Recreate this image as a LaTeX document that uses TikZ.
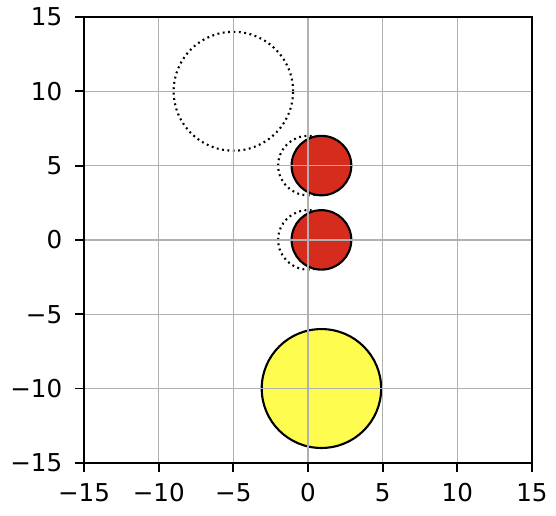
\documentclass[tikz,border=0pt]{standalone}
\usepackage{fontspec}
\setmainfont{DejaVu Sans}
\definecolor{gridgray}{RGB}{176,176,176}
\definecolor{discred}{RGB}{214,44,30}
\definecolor{discyellow}{RGB}{255,252,80}
\tikzset{
  gridline/.style={draw=gridgray,line width=1.2pt},
  frame/.style={draw=black,line width=1.6pt},
  disc/.style={draw=black,line width=1.8pt},
  ghost/.style={draw=black,line width=1.8pt,dash pattern=on 1.6pt off 3pt},
  ticklabel/.style={font=\fontsize{21}{24}\selectfont,inner sep=0pt}
}

\begin{document}
\begin{tikzpicture}[x=0.448cm,y=0.446cm]
    \useasboundingbox (-20.63,-18.56) rectangle (16.61,16.14);
    % outlines of the old positions
    \draw[ghost] (-5,10) circle[radius=4];
    \draw[ghost] (0,5) circle[radius=2];
    \draw[ghost] (0,0) circle[radius=2];
    % discs
    \filldraw[disc,fill=discred] (0.9,5) circle[radius=2];
    \filldraw[disc,fill=discred] (0.9,0) circle[radius=2];
    \filldraw[disc,fill=discyellow] (0.9,-10) circle[radius=4];
    % grid
    \foreach \v in {-10,-5,...,10} {
        \draw[gridline] (\v,-15) -- (\v,15);
        \draw[gridline] (-15,\v) -- (15,\v);
    }
    \draw[frame] (-15,-15) rectangle (15,15);
    % ticks and labels
    \foreach \v/\t in {-15/−15,-10/−10,-5/−5,0/0,5/5,10/10,15/15} {
        \draw[frame] (\v,-15) -- (\v,-15.6);
        \draw[frame] (-15,\v) -- (-15.6,\v);
        \node[ticklabel,anchor=north] (xl\v) at (\v,-16.35) {\t};
        \node[ticklabel,anchor=east] (yl\v) at (-16.45,\v) {\t};
    }
\end{tikzpicture}
\end{document}
